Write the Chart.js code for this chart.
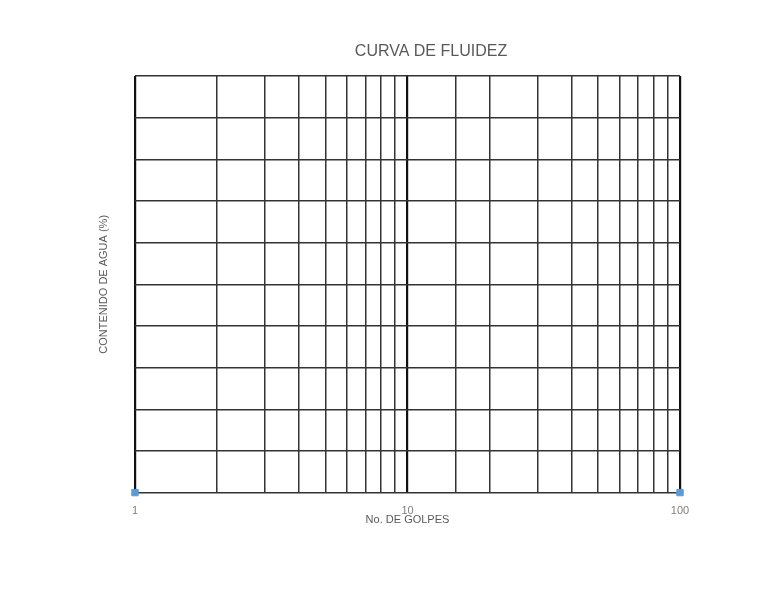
<!DOCTYPE html>
<html>
<head>
<meta charset="utf-8">
<script src="https://cdn.jsdelivr.net/npm/chart.js@4"></script>
<style>
  html, body { margin: 0; padding: 0; background: #fff; }
  #wrap { width: 768px; height: 594px; }
</style>
</head>
<body>
<div id="wrap"><canvas id="chart"></canvas></div>
<script>
// data
const golpes = [1, 100];
const contenido = [0, 0];
const xTickLabels = [1, 10, 100];
const yMin = 0;
const yMax = 10;

const points = golpes.map((g, i) => ({ x: g, y: contenido[i] }));

new Chart(document.getElementById('chart'), {
  type: 'scatter',
  data: {
    datasets: [
      {
        data: points,
        backgroundColor: '#5b9bd5',
        borderColor: '#5b9bd5',
        pointStyle: 'rect',
        pointRadius: 4.5,
        showLine: false,
        clip: false,
      },
    ],
  },
  options: {
    responsive: true,
    maintainAspectRatio: false,
    animation: false,
    layout: { padding: { top: 32, left: 94, right: 0, bottom: 67 } },
    plugins: {
      legend: { display: false },
      tooltip: { enabled: false },
      title: {
        display: true,
        text: 'CURVA DE FLUIDEZ',
        color: '#595959',
        font: { family: 'Liberation Sans', size: 16, weight: 'normal' },
        padding: { top: 9.5, bottom: 15.3 },
      },
    },
    scales: {
      x: {
        type: 'logarithmic',
        min: 1,
        max: 100,
        border: { display: false },
        grid: {
          drawTicks: false,
          color: (ctx) => (xTickLabels.includes(ctx.tick && ctx.tick.value) ? '#111' : '#333'),
          lineWidth: (ctx) => (xTickLabels.includes(ctx.tick && ctx.tick.value) ? 2.2 : 1.5),
        },
        ticks: {
          autoSkip: false,
          maxRotation: 0,
          padding: 12,
          color: '#7f7f7f',
          font: { family: 'Liberation Sans', size: 11 },
          callback: (v) => (xTickLabels.includes(v) ? String(v) : ''),
        },
        title: {
          display: true,
          text: 'No. DE GOLPES',
          color: '#595959',
          font: { family: 'Liberation Sans', size: 11 },
          padding: { top: -16, bottom: 0 },
        },
      },
      y: {
        min: yMin,
        max: yMax,
        border: { display: false },
        grid: { drawTicks: false, color: '#333', lineWidth: 1.5 },
        ticks: { display: false, stepSize: 1 },
        title: {
          display: true,
          text: 'CONTENIDO DE AGUA (%)',
          color: '#595959',
          font: { family: 'Liberation Sans', size: 11 },
          padding: { top: 3, bottom: 0 },
        },
        afterFit: (s) => { s.width = 41; },
      },
      yRight: {
        position: 'right',
        display: true,
        min: yMin,
        max: yMax,
        border: { display: false },
        grid: { display: false },
        ticks: { display: false },
        afterFit: (s) => { s.width = 88; },
      },
    },
  },
});
</script>
</body>
</html>
